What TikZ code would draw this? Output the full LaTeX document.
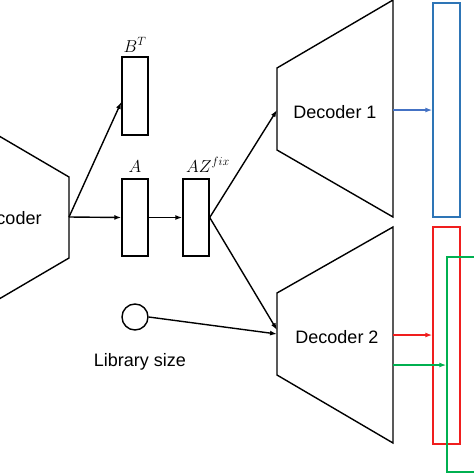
\documentclass[tikz,border=0pt]{standalone}
\usepackage{fontspec}
\setmainfont{Liberation Sans}
\usetikzlibrary{arrows.meta}
\definecolor{outblue}{HTML}{2E75B6}
\definecolor{arrblue}{HTML}{4472C4}
\definecolor{outred}{HTML}{F01E1E}
\definecolor{outgreen}{HTML}{00B050}
\begin{document}
\begin{tikzpicture}[x=1pt,y=-1pt,line width=1.4pt,
    arr/.style={-{Latex[length=7pt,width=5pt]}},
    mat/.style={draw,inner sep=0,minimum width=26pt,minimum height=77pt},
    lbl/.style={anchor=base,inner sep=0,font=\fontsize{18}{21}\selectfont},
    txt/.style={inner sep=0,font=\fontsize{18}{21}\selectfont}]
    \clip (0,0) rectangle (474,474);

    % encoder and decoders
    \draw (-47,109) -- (69,177) -- (69,258) -- (-47,326);
    \node[txt] (enctext) at (8,218) {Encoder};
    \coordinate (enc) at (69,217);
    \draw (277,68) -- (393,0) -- (393,217) -- (277,150) -- cycle;
    \node[txt] (dec1text) at (335,112) {Decoder 1};
    \draw (277,293) -- (393,227) -- (393,443) -- (277,375) -- cycle;
    \node[txt] (dec2text) at (337,337) {Decoder 2};
    \foreach \n/\x/\y in {dec1in/277/110,dec1out/393/110,dec2in/277/330,
        dec2inb/277/334,dec2out/393/335,dec2outb/393/365}
        \coordinate (\n) at (\x,\y);

    % latent matrices
    \node[mat,minimum height=78pt] (bt) at (135,96) {};
    \node[mat] (a) at (135,217.5) {};
    \node[mat] (az) at (196,217.5) {};
    \node[lbl] (btlab) at (135,52) {$B^T$};
    \node[lbl] (alab) at (135,172) {$A$};
    \node[lbl] (azlab) at (208,172) {$AZ^{fix}$};
    \node[draw,circle,inner sep=0,minimum size=26pt] (lib) at (135,317) {};
    \node[txt] (libtext) at (140,362) {Library size};

    % outputs
    \node[draw=outblue,mat,minimum width=27pt,minimum height=214pt] (blue) at (446.5,110) {};
    \node[draw=outred,mat,minimum width=27pt,minimum height=217pt] (red) at (446.5,335.5) {};
    \node[draw=outgreen,mat,minimum width=43pt,minimum height=215pt] (green) at (468.5,364.5) {};

    \draw[arr] (enc) -- ([yshift=-6pt]bt.west);
    \draw[arr] (enc) -- (a.west);
    \draw[arr] (a.east) -- (az.west);
    \draw[arr] (az.east) -- (dec1in);
    \draw[arr] (az.east) -- (dec2in);
    \draw[arr] (lib.east) -- (dec2inb);
    \draw[arr,arrblue] (dec1out) -- (blue.west);
    \draw[arr,outred] (dec2out) -- (red.west |- dec2out);
    \draw[arr,outgreen] (dec2outb) -- (green.west |- dec2outb);
\end{tikzpicture}
\end{document}
